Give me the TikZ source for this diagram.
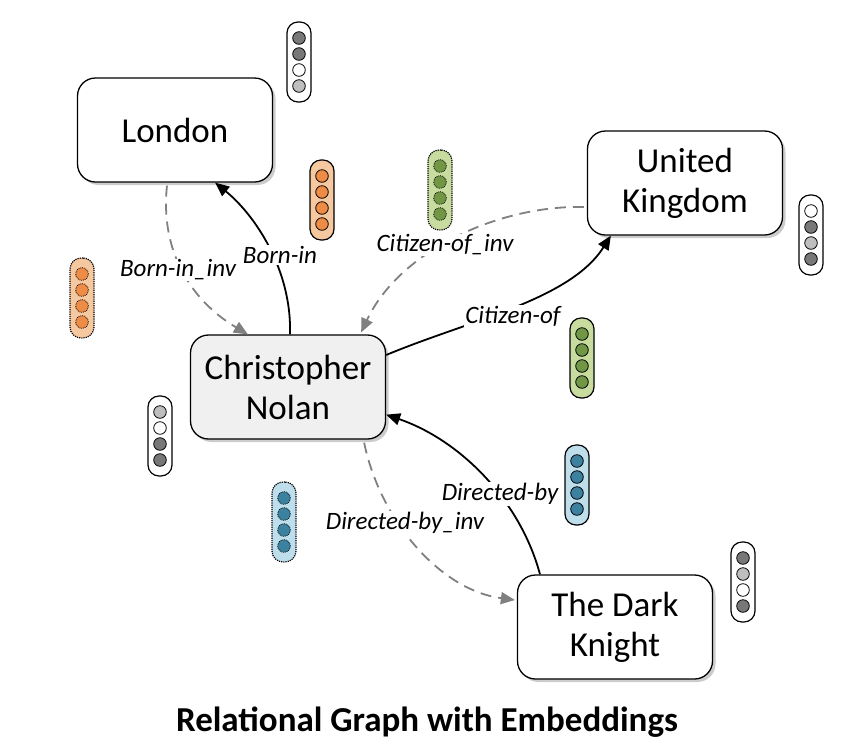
\documentclass[tikz,border=0pt]{standalone}
\usepackage{fontspec}
\setmainfont{Carlito}
\usetikzlibrary{shadows,arrows.meta,calc}
\definecolor{og}{RGB}{236,140,70}\definecolor{ogb}{RGB}{246,200,160}
\definecolor{gr}{RGB}{112,150,70}\definecolor{grb}{RGB}{200,220,160}
\definecolor{bl}{RGB}{60,130,160}\definecolor{blb}{RGB}{190,222,236}
\definecolor{dk}{RGB}{120,120,120}\definecolor{lt}{RGB}{190,190,190}
\begin{document}
\begin{tikzpicture}[x=1pt,y=-1pt,
 ent/.style={draw,line width=1.3pt,rounded corners=18pt,minimum width=195pt,minimum height=104pt,align=center,font=\fontsize{35}{40}\selectfont,fill=white,drop shadow={shadow xshift=3pt,shadow yshift=-3pt,opacity=.4}},
 lab/.style={font=\itshape\fontsize{25}{28}\selectfont,fill=white,text=black,inner sep=1pt},
 rel/.style={line width=1.8pt,-{Triangle[length=14pt,width=12pt]}},
 inv/.style={line width=1.8pt,gray,dash pattern=on 11pt off 7pt,-{Triangle[length=14pt,width=12pt]}},
 capsule/.style={draw,line width=1.2pt,rounded corners=11pt,minimum width=24pt,minimum height=80pt,inner sep=0pt}]
\useasboundingbox (0,0) rectangle (854,748);
\newcommand{\vect}[7]{%
 \node[capsule,fill=#4,#5] (#1) at (#2,#3) {};
 \foreach \c [count=\i] in {#6}{\draw[#7,fill=\c] (#2,#3-40+16*\i) circle (6.3pt);}}
\node[ent] (lon) at (175,130) {London};
\node[ent] (uk) at (685,183) {United\\Kingdom};
\node[ent,fill=gray!12] (cn) at (288,387) {Christopher\\Nolan};
\node[ent] (dk) at (615,627) {The Dark\\Knight};
\node[font=\bfseries\fontsize{35}{40}\selectfont] (title) at (427,722) {Relational Graph with Embeddings};
% vectors
\vect{v1}{299}{62}{white}{}{dk,dk,white,lt}{thick}
\vect{v2}{322}{200}{ogb}{}{og,og,og,og}{thick}
\vect{v3}{440}{190}{grb}{densely dotted}{gr,gr,gr,gr}{thick,densely dotted}
\vect{v4}{82}{298}{ogb}{densely dotted}{og,og,og,og}{thick,densely dotted}
\vect{v5}{811}{235}{white}{}{white,dk,lt,dk}{thick}
\vect{v6}{582}{358}{grb}{}{gr,gr,gr,gr}{thick}
\vect{v7}{160}{436}{white}{}{lt,white,dk,dk}{thick}
\vect{v8}{577}{485}{blb}{}{bl,bl,bl,bl}{thick}
\vect{v9}{284}{522}{blb}{densely dotted}{bl,bl,bl,bl}{thick,densely dotted}
\vect{v10}{743}{582}{white}{}{dk,lt,white,dk}{thick}
% edges
\draw[rel] ($(cn.north)+(2,0)$) .. controls (292,270) and (255,215) .. ($(lon.south east)+(-58,0)$);
\draw[inv] ($(lon.south)+(-8,3)$) .. controls (160,250) and (190,300) .. ($(cn.north west)+(58,0)$);
\draw[rel] ($(cn.east)+(0,-32)$) .. controls (470,320) and (570,300) .. ($(uk.south west)+(24,0)$);
\draw[inv] ($(uk.west)+(-3,24)$) .. controls (500,205) and (400,250) .. ($(cn.north east)+(-25,-2)$);
\draw[rel] ($(dk.north)+(-75,0)$) .. controls (520,500) and (460,440) .. ($(cn.south east)+(0,-25)$);
\draw[inv] ($(cn.south east)+(-22,3)$) .. controls (380,520) and (440,590) .. ($(dk.west)+(-2,-27)$);
% labels
\node[lab] (l1) at (280,255) {Born-in};
\node[lab] (l2) at (178,270) {Born-in\_inv};
\node[lab] (l3) at (445,245) {Citizen-of\_inv};
\node[lab] (l4) at (513,316) {Citizen-of};
\node[lab] (l5) at (500,494) {Directed-by};
\node[lab] (l6) at (405,523) {Directed-by\_inv};
\end{tikzpicture}
\end{document}
